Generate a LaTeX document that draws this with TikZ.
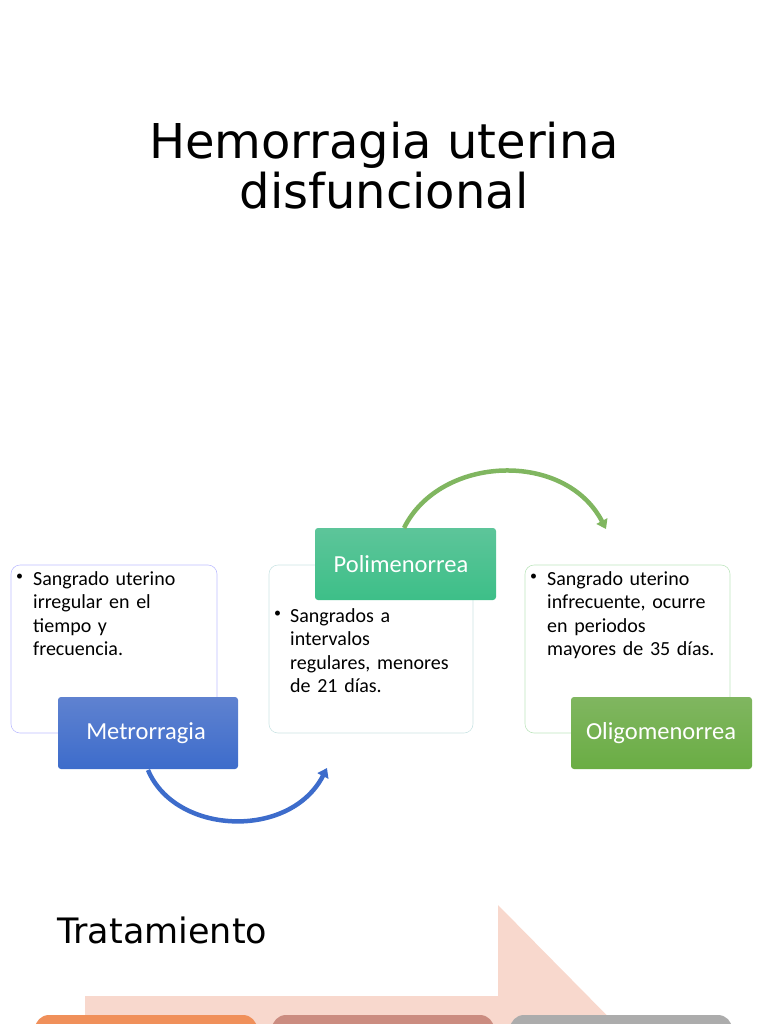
\documentclass[tikz,border=0pt]{standalone}
\usepackage{fontspec}
\setmainfont{DejaVu Sans}
\newfontfamily\calfont{Carlito}
\usetikzlibrary{arrows.meta}
\definecolor{bluetop}{HTML}{5F82D0}
\definecolor{bluebot}{HTML}{3D6CCB}
\definecolor{tealtop}{HTML}{5DC59A}
\definecolor{tealbot}{HTML}{3DBF88}
\definecolor{grntop}{HTML}{80B660}
\definecolor{grnbot}{HTML}{6AAD44}
\definecolor{pinkar}{HTML}{F8D8CD}
\tikzset{
 textbox/.style={draw, rounded corners=9pt, line width=0.6pt, fill=white},
 label/.style={text=white, font=\calfont\fontsize{24.5}{28}\selectfont, inner sep=0pt},
 btext/.style={font=\calfont\fontsize{20}{23.5}\selectfont, align=left, anchor=north west, text width=185pt, inner sep=0pt},
 bul/.style={font=\calfont\fontsize{14}{16}\selectfont, anchor=north west, inner sep=0pt},
}
\begin{document}
\begin{tikzpicture}[x=1pt,y=-1pt]
\useasboundingbox (0,0) rectangle (768,1024);
\clip (0,0) rectangle (768,1024);
\node (title) at (384,166) [align=center, font=\fontsize{48}{50}\selectfont] {Hemorragia uterina\\disfuncional};
% text boxes
\draw[textbox, draw=blue!25] (11,565) rectangle (217,733);
\draw[textbox, draw=teal!20] (269,565) rectangle (473,733);
\draw[textbox, draw=green!60!black!25] (525,565) rectangle (730,733);
\node[bul] (b1t) at (16,574) {•};
\node[btext] (t1) at (33,571) {Sangrado uterino\\irregular en el\\tiempo y\\frecuencia.};
\node[bul] (b2t) at (274,611) {•};
\node[btext] (t2) at (290,608) {Sangrados a\\intervalos\\regulares, menores\\de 21 días.};
\node[bul] (b3t) at (530,574) {•};
\node[btext] (t3) at (547,571) {Sangrado uterino\\infrecuente, ocurre\\en periodos\\mayores de 35 días.};
% labels
\shade[rounded corners=3pt, top color=bluetop, bottom color=bluebot] (58,697) rectangle (238,769);
\node[label] (m) at (146,733) {Metrorragia};
\shade[rounded corners=3pt, top color=tealtop, bottom color=tealbot] (315,528) rectangle (496,600);
\node[label] (p) at (401,564) {Polimenorrea};
\shade[rounded corners=3pt, top color=grntop, bottom color=grnbot] (571,697) rectangle (752,769);
\node[label] (o) at (661,733) {Oligomenorrea};
% arrows
\coordinate (b1) at (148,770);
\coordinate (b2) at (327,768);
\draw[bluebot, line width=4.5pt, -{Triangle[length=9pt,width=12pt]}] (b1) .. controls (175,835) and (290,840) .. (b2);
\coordinate (g1) at (404,528);
\coordinate (g2) at (606,529);
\draw[grntop, line width=4.5pt, -{Triangle[length=9pt,width=12pt]}] (g1) .. controls (440,455) and (565,450) .. (g2);
% bottom
\node (trat) at (57,930) [anchor=west, inner sep=0pt, font=\fontsize{35}{40}\selectfont] {Tratamiento};
\fill[pinkar] (85,996) -- (498,996) -- (498,905) -- (720,1130) -- (85,1130) -- cycle;
\fill[rounded corners=14pt, color={rgb,255:red,240;green,144;blue,90}] (35,1015) rectangle (257,1080);
\fill[rounded corners=14pt, color={rgb,255:red,203;green,140;blue,128}] (272,1015) rectangle (494,1080);
\fill[rounded corners=14pt, color={rgb,255:red,172;green,172;blue,172}] (510,1015) rectangle (732,1080);
\end{tikzpicture}
\end{document}
